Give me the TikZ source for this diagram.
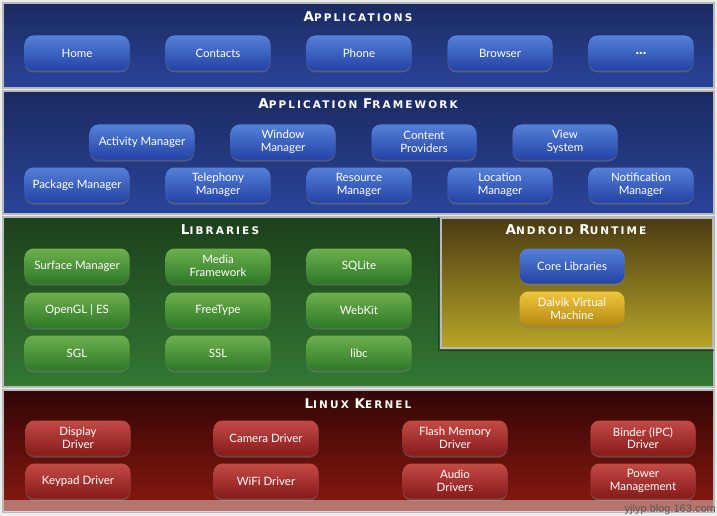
\documentclass[tikz,border=0pt]{standalone}
\usepackage{fontspec}
\setmainfont{Lato}
\newfontfamily\titlefont[LetterSpace=20]{DejaVu Sans}
\newfontfamily\markfont{Liberation Sans}
\usetikzlibrary{shadows}
\definecolor{appA}{HTML}{1B2A60}
\definecolor{appB}{HTML}{2A449A}
\definecolor{libA}{HTML}{1C401C}
\definecolor{libB}{HTML}{327832}
\definecolor{rtA}{HTML}{4A3A12}
\definecolor{rtB}{HTML}{B8A628}
\definecolor{kerA}{HTML}{320505}
\definecolor{kerB}{HTML}{8A1A10}
\definecolor{blueA}{HTML}{5580D8}
\definecolor{blueB}{HTML}{2343A6}
\definecolor{greenA}{HTML}{6DB04E}
\definecolor{greenB}{HTML}{2E7826}
\definecolor{yellowA}{HTML}{F0C63C}
\definecolor{yellowB}{HTML}{B48812}
\definecolor{redA}{HTML}{C44A45}
\definecolor{redB}{HTML}{861A1A}
\newcommand\tcap[1]{{\fontsize{13.5}{13.5}\selectfont #1}}

\begin{document}
\begin{tikzpicture}[x=1pt,y=-1pt,
    layer/.style={draw=gray!55,line width=1.2pt},
    btn/.style={rounded corners=9pt,minimum width=105pt,minimum height=35pt,
      inner sep=1pt,text=white,align=center,font=\fontsize{11.5}{12.5}\selectfont,
      drop shadow={opacity=0.45,shadow xshift=0pt,shadow yshift=-2pt}},
    bluebtn/.style={btn,top color=blueA,bottom color=blueB},
    greenbtn/.style={btn,top color=greenA,bottom color=greenB},
    yellowbtn/.style={btn,top color=yellowA,bottom color=yellowB},
    redbtn/.style={btn,top color=redA,bottom color=redB},
    title/.style={text=white,font=\titlefont\bfseries\fontsize{10.5}{10.5}\selectfont}]
  \useasboundingbox (0,0) rectangle (717,516);
  \fill[gray!15] (0,0) rectangle (717,516);
  % layers
  \shade[layer,top color=appA,bottom color=appB] (3,3) rectangle (714,88);
  \shade[layer,top color=appA,bottom color=appB] (3,91) rectangle (714,214);
  \shade[layer,top color=libA,bottom color=libB] (3,217) rectangle (714,387);
  \shade[layer,top color=rtA,bottom color=rtB] (441,218) rectangle (713,348);
  \draw[black!80,line width=1pt] (438.5,217) -- (438.5,350.5) -- (714,350.5);
  \shade[layer,top color=kerA,bottom color=kerB] (3,390) rectangle (714,512);
  % titles
  \node[title] (apps) at (358,17) {\tcap{A}PPLICATIONS};
  \node[title] (frame) at (358,104) {\tcap{A}PPLICATION \tcap{F}RAMEWORK};
  \node[title] (libs) at (220,230) {\tcap{L}IBRARIES};
  \node[title] (rt) at (576,230) {\tcap{A}NDROID \tcap{R}UNTIME};
  \node[title] (kernel) at (358,404) {\tcap{L}INUX \tcap{K}ERNEL};
  % applications
  \node[bluebtn] (home) at (77,53) {Home};
  \node[bluebtn] (contacts) at (218,53) {Contacts};
  \node[bluebtn] (phone) at (359,53) {Phone};
  \node[bluebtn] (browser) at (500,53) {Browser};
  \node[bluebtn] (more) at (641,53) {\fontsize{15}{15}\selectfont\bfseries ...};
  % application framework
  \node[bluebtn] (activity) at (142,142) {Activity Manager};
  \node[bluebtn] (window) at (283,142) {Window\\Manager};
  \node[bluebtn] (content) at (424,142) {Content\\Providers};
  \node[bluebtn] (view) at (565,142) {View\\System};
  \node[bluebtn] (package) at (77,185) {Package Manager};
  \node[bluebtn] (telephony) at (218,185) {Telephony\\Manager};
  \node[bluebtn] (resource) at (359,185) {Resource\\Manager};
  \node[bluebtn] (location) at (500,185) {Location\\Manager};
  \node[bluebtn] (notification) at (641,185) {Notification\\Manager};
  % libraries
  \node[greenbtn] (surface) at (77,266) {Surface Manager};
  \node[greenbtn] (media) at (218,266) {Media\\Framework};
  \node[greenbtn] (sqlite) at (359,266) {SQLite};
  \node[greenbtn] (opengl) at (77,310) {OpenGL | ES};
  \node[greenbtn] (freetype) at (218,310) {FreeType};
  \node[greenbtn] (webkit) at (359,310) {WebKit};
  \node[greenbtn] (sgl) at (77,353) {SGL};
  \node[greenbtn] (ssl) at (218,353) {SSL};
  \node[greenbtn] (libc) at (359,353) {libc};
  % android runtime
  \node[bluebtn] (core) at (572,266) {Core Libraries};
  \node[yellowbtn] (dalvik) at (572,309) {Dalvik Virtual\\Machine};
  % linux kernel
  \node[redbtn] (display) at (78,438) {Display\\Driver};
  \node[redbtn] (camera) at (266,438) {Camera Driver};
  \node[redbtn] (flash) at (455,438) {Flash Memory\\Driver};
  \node[redbtn] (binder) at (643,438) {Binder (IPC)\\Driver};
  \node[redbtn] (keypad) at (78,481) {Keypad Driver};
  \node[redbtn] (wifi) at (266,481) {WiFi Driver};
  \node[redbtn] (audio) at (455,481) {Audio\\Drivers};
  \node[redbtn] (power) at (643,481) {Power\\Management};
  % watermark strip
  \fill[white,opacity=0.4] (4,500) rectangle (713,512);
  \node[anchor=south east,inner sep=0pt,text=gray!70!black,font=\markfont\fontsize{11}{11}\selectfont] (mark) at (716,515) {yjlyp.blog.163.com};
\end{tikzpicture}
\end{document}
